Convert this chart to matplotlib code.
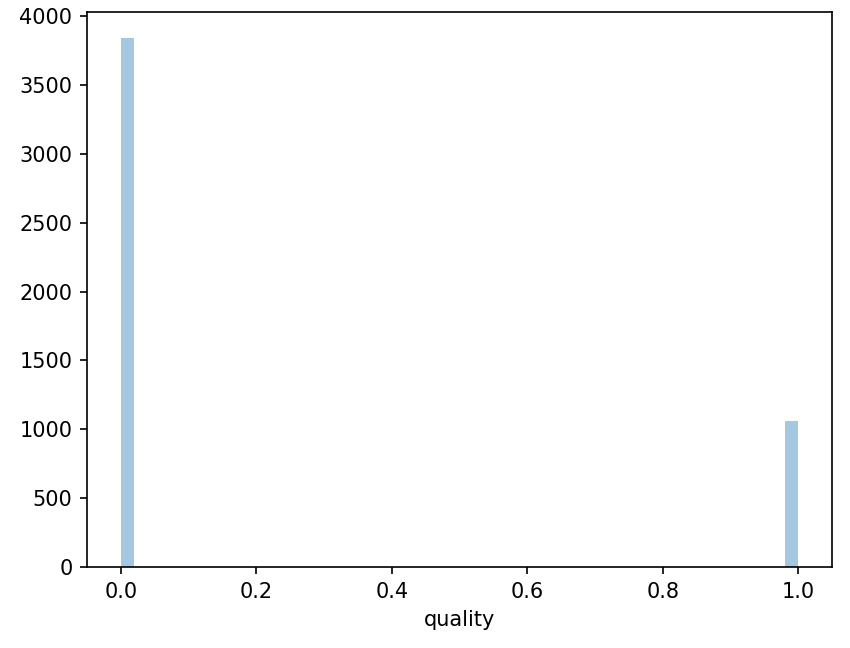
import numpy as np
import matplotlib
matplotlib.use("Agg")
import matplotlib.pyplot as plt

# quality flag (0 = ordinary, 1 = good) and how many wines fall into each
quality = [0, 1]
counts = [3838, 1060]

fig, ax = plt.subplots(figsize=(851 / 150, 648 / 150), dpi=150)
fig.subplots_adjust(left=0.1022, right=0.9777, top=0.9815, bottom=0.125)

# same look as seaborn distplot(kde=False): 50 bins, alpha 0.4
ax.hist(quality, bins=50, weights=counts, color='#1f77b4', alpha=0.4)

ax.set_xlabel("quality")
plt.savefig("out.png", dpi=150)
